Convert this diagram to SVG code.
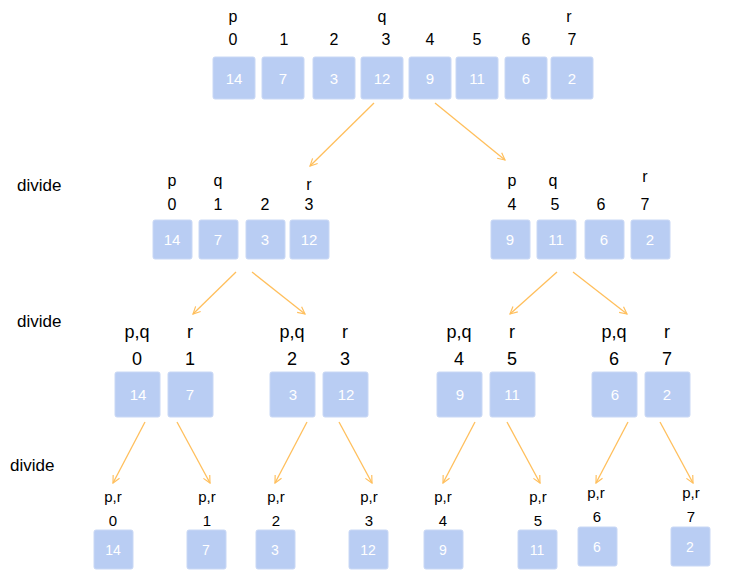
<svg xmlns="http://www.w3.org/2000/svg" width="747" height="587" viewBox="0 0 747 587">
<style>
.b{fill:#b9cdf3;stroke:#c9d8f5;stroke-width:1}
.v{font-family:"Liberation Sans",Arial,sans-serif;fill:#fff;text-anchor:middle;font-size:15px}
.t{font-family:"Liberation Sans",Arial,sans-serif;fill:#000;text-anchor:middle;font-size:16px}
.t3{font-size:18px}
.d{font-family:"Liberation Sans",Arial,sans-serif;fill:#000;font-size:17px}
.c line{stroke:#ffbf5c;stroke-width:1.3;marker-end:url(#a)}
</style>
<defs><marker id="a" viewBox="0 0 10 10" refX="9" refY="5" markerWidth="9" markerHeight="9" orient="auto" markerUnits="userSpaceOnUse"><path d="M1,1 L9,5 L1,9" fill="none" stroke="#ffbf5c" stroke-width="1.3"/></marker></defs>
<rect width="747" height="587" fill="#fff"/>
<text class="d" x="17" y="191">divide</text>
<text class="d" x="17" y="327">divide</text>
<text class="d" x="10" y="471">divide</text>
<g id="top">
<text class="t" x="233" y="22">p</text><text class="t" x="382" y="22">q</text><text class="t" x="569" y="22">r</text>
<g class="t"><text x="233" y="45">0</text><text x="284" y="45">1</text><text x="334" y="45">2</text><text x="386" y="45">3</text><text x="430" y="45">4</text><text x="477" y="45">5</text><text x="526" y="45">6</text><text x="572" y="45">7</text></g>
<rect class="b" x="213" y="57" width="42" height="42" rx="2"/><rect class="b" x="262" y="57" width="42" height="42" rx="2"/><rect class="b" x="313" y="57" width="42" height="42" rx="2"/><rect class="b" x="361" y="57" width="42" height="42" rx="2"/><rect class="b" x="409" y="57" width="42" height="42" rx="2"/><rect class="b" x="456" y="57" width="42" height="42" rx="2"/><rect class="b" x="505" y="57" width="42" height="42" rx="2"/><rect class="b" x="551" y="57" width="42" height="42" rx="2"/>
<g class="v"><text x="234" y="84">14</text><text x="283" y="84">7</text><text x="334" y="84">3</text><text x="382" y="84">12</text><text x="430" y="84">9</text><text x="477" y="84">11</text><text x="526" y="84">6</text><text x="572" y="84">2</text></g>
</g>
<g id="l2left">
<g class="t"><text x="172" y="186">p</text><text x="218" y="186">q</text><text x="309" y="190">r</text><text x="172" y="210">0</text><text x="218" y="210">1</text><text x="265" y="210">2</text><text x="309" y="210">3</text></g>
<rect class="b" x="153" y="220" width="39" height="39" rx="2"/><rect class="b" x="199" y="220" width="39" height="39" rx="2"/><rect class="b" x="246" y="220" width="39" height="39" rx="2"/><rect class="b" x="290" y="220" width="39" height="39" rx="2"/>
<g class="v"><text x="172" y="245">14</text><text x="218" y="245">7</text><text x="265" y="245">3</text><text x="309" y="245">12</text></g>
</g>
<g id="l2right">
<g class="t"><text x="512" y="186">p</text><text x="553" y="186">q</text><text x="645" y="182">r</text><text x="512" y="210">4</text><text x="555" y="210">5</text><text x="601" y="210">6</text><text x="645" y="210">7</text></g>
<rect class="b" x="491" y="220" width="39" height="39" rx="2"/><rect class="b" x="537" y="220" width="39" height="39" rx="2"/><rect class="b" x="585" y="220" width="39" height="39" rx="2"/><rect class="b" x="631" y="220" width="39" height="39" rx="2"/>
<g class="v"><text x="510" y="245">9</text><text x="556" y="245">11</text><text x="604" y="245">6</text><text x="650" y="245">2</text></g>
</g>
<g id="l3">
<g class="t t3"><text x="137" y="338">p,q</text><text x="190" y="338">r</text><text x="292" y="338">p,q</text><text x="345" y="338">r</text><text x="459" y="338">p,q</text><text x="512" y="338">r</text><text x="614" y="338">p,q</text><text x="667" y="338">r</text>
<text x="137" y="365">0</text><text x="190" y="365">1</text><text x="292" y="365">2</text><text x="345" y="365">3</text><text x="459" y="365">4</text><text x="512" y="365">5</text><text x="614" y="365">6</text><text x="667" y="365">7</text></g>
<rect class="b" x="115" y="372" width="45" height="45" rx="2"/><rect class="b" x="168" y="372" width="45" height="45" rx="2"/><rect class="b" x="270" y="372" width="45" height="45" rx="2"/><rect class="b" x="323" y="372" width="45" height="45" rx="2"/><rect class="b" x="437" y="372" width="45" height="45" rx="2"/><rect class="b" x="490" y="372" width="45" height="45" rx="2"/><rect class="b" x="592" y="372" width="45" height="45" rx="2"/><rect class="b" x="645" y="372" width="45" height="45" rx="2"/>
<g class="v"><text x="138" y="400">14</text><text x="190" y="400">7</text><text x="293" y="400">3</text><text x="346" y="400">12</text><text x="460" y="400">9</text><text x="512" y="400">11</text><text x="615" y="400">6</text><text x="667" y="400">2</text></g>
</g>
<g id="l4">
<g class="t" style="font-size:15px"><text x="113" y="502">p,r</text><text x="207" y="502">p,r</text><text x="276" y="502">p,r</text><text x="369" y="502">p,r</text><text x="443" y="502">p,r</text><text x="538" y="502">p,r</text><text x="596" y="498">p,r</text><text x="691" y="498">p,r</text>
<text x="113" y="526">0</text><text x="207" y="526">1</text><text x="276" y="526">2</text><text x="369" y="526">3</text><text x="443" y="526">4</text><text x="538" y="526">5</text><text x="597" y="522">6</text><text x="691" y="522">7</text></g>
<rect class="b" x="94" y="530" width="39" height="39" rx="2"/><rect class="b" x="187" y="530" width="39" height="39" rx="2"/><rect class="b" x="256" y="530" width="39" height="39" rx="2"/><rect class="b" x="349" y="530" width="39" height="39" rx="2"/><rect class="b" x="424" y="530" width="39" height="39" rx="2"/><rect class="b" x="518" y="530" width="39" height="39" rx="2"/><rect class="b" x="578" y="527" width="39" height="39" rx="2"/><rect class="b" x="671" y="527" width="39" height="39" rx="2"/>
<g class="v" style="font-size:14px"><text x="113" y="555">14</text><text x="206" y="555">7</text><text x="275" y="555">3</text><text x="368" y="555">12</text><text x="443" y="555">9</text><text x="537" y="555">11</text><text x="597" y="552">6</text><text x="690" y="552">2</text></g>
</g>
<g class="c" id="connectors">
<line x1="374" y1="103" x2="310" y2="166"/><line x1="435" y1="103" x2="505" y2="160"/>
<line x1="236" y1="272" x2="193" y2="314"/><line x1="252" y1="272" x2="305" y2="314"/>
<line x1="557" y1="272" x2="510" y2="314"/><line x1="573" y1="272" x2="627" y2="314"/>
<line x1="145" y1="422" x2="113" y2="483"/><line x1="177" y1="422" x2="210" y2="483"/>
<line x1="307" y1="422" x2="275" y2="483"/><line x1="339" y1="422" x2="372" y2="483"/>
<line x1="475" y1="422" x2="443" y2="483"/><line x1="507" y1="422" x2="540" y2="483"/>
<line x1="628" y1="422" x2="596" y2="483"/><line x1="660" y1="422" x2="693" y2="483"/>
</g>
</svg>
